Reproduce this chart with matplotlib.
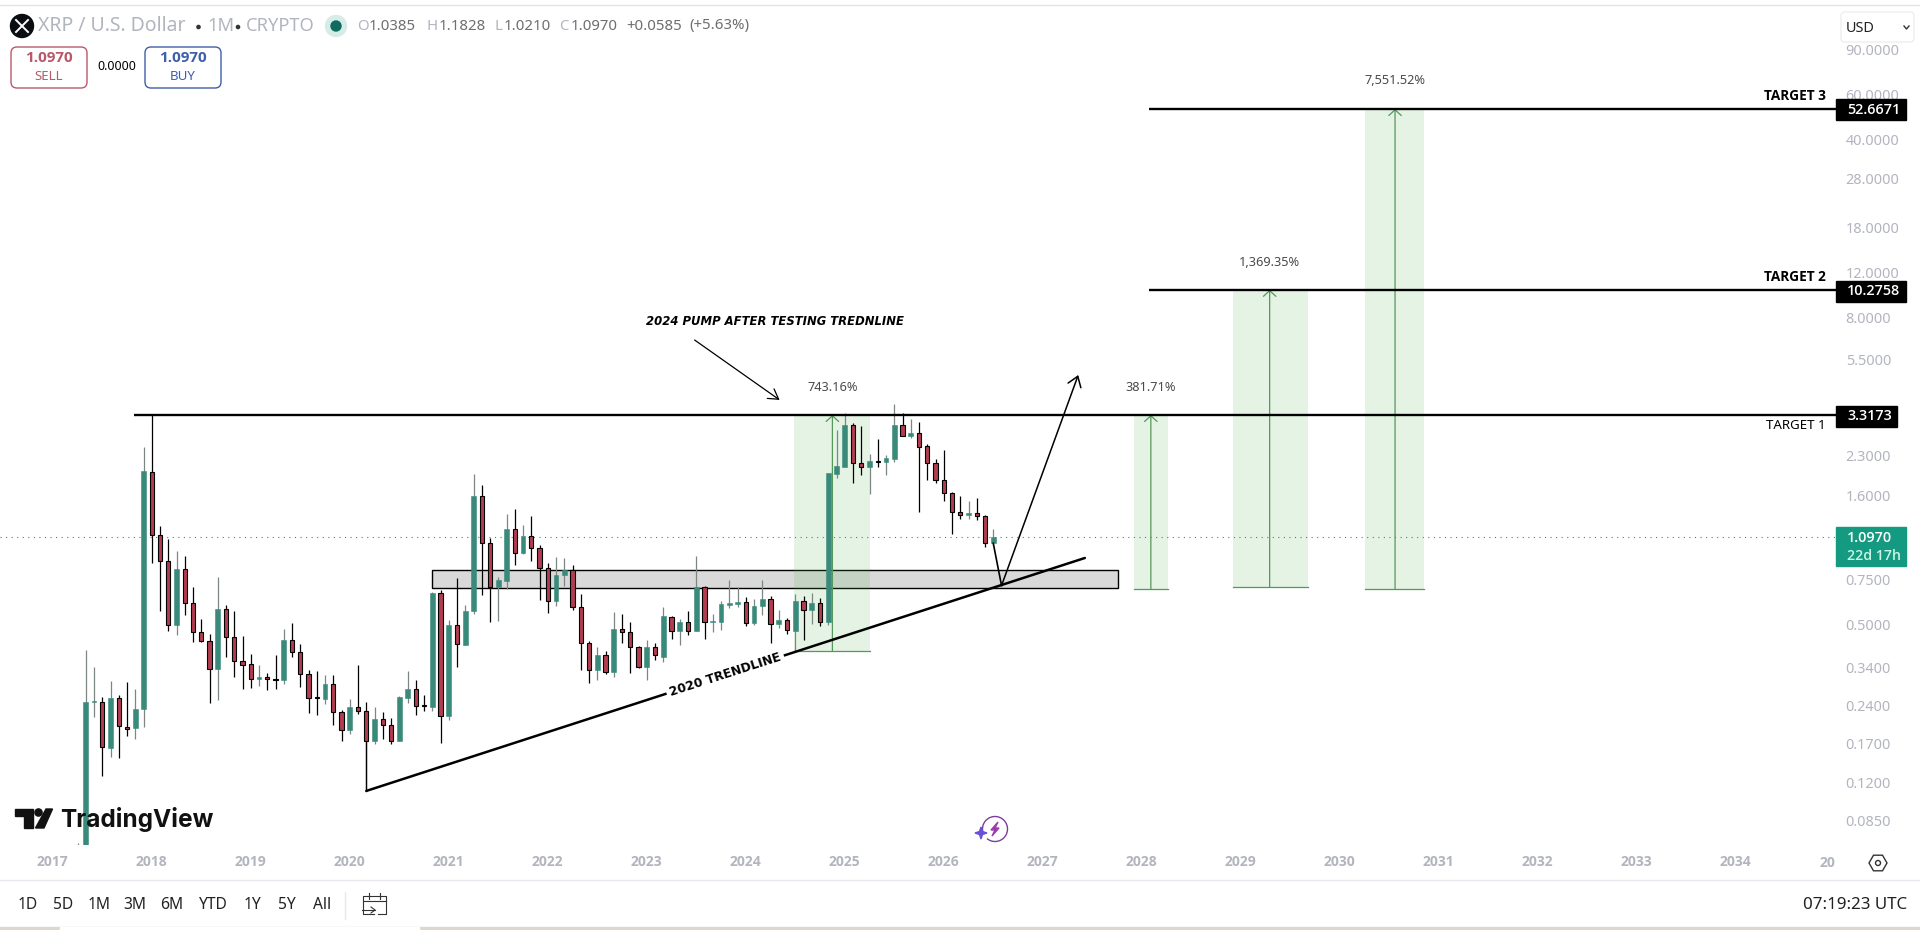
import numpy as np
import matplotlib
matplotlib.use('Agg')
import matplotlib.pyplot as plt
from matplotlib.patches import Rectangle, FancyBboxPatch, Circle, Polygon, RegularPolygon, Arc

plt.rcParams['font.family'] = ['Noto Sans', 'DejaVu Sans']
BOLD = ['Open Sans', 'DejaVu Sans']

# monthly candles, first one is Apr 2017 (month 3 counted from Jan 2017)
first_month = 3
opens = [.032, .055, .248, .248, .163, .258, .197, .196, .233,
         1.975, 1.123, .883, .499, .828, .609, .468, .432, .333, .577, .448, .358,
         .348, .306, .312, .306, .302, .436, .391, .318, .259, .255, .293, .226,
         .192, .238, .228, .174, .212, .202, .175, .258, .28, .241, .238, .662,
         .219, .498, .416, .565, 1.6, 1.04, .70, .74, 1.18, .95, 1.11, .996,
         .832, .616, .778, .817, .584, .424, .33, .379, .325, .48, .467, .408,
         .339, .408, .372, .535, .469, .511, .472, .70, .511, .511, .597, .603,
         .613, .505, .588, .627, .50, .52, .473, .618, .567, .609, .51, 1.95,
         2.08, 3.04, 2.145, 2.08, 2.19, 2.16, 2.235, 3.03, 2.74, 2.82, 2.50, 2.145,
         1.84, 1.64, 1.38, 1.34, 1.365, 1.335, 1.0385]
highs = [.0695, .398, .341, .26, .30, .263, .296, .28, 2.48,
         3.3173, 1.22, 1.077, .97, .926, .70, .524, .46, .766, .598, .563, .449,
         .382, .345, .323, .378, .479, .505, .42, .33, .328, .316, .316, .231,
         .254, .345, .247, .236, .226, .214, .261, .328, .303, .263, .672, .68,
         .52, .76, .598, 1.95, 1.76, 1.095, .77, 1.35, 1.42, 1.23, 1.33, 1.025,
         .87, .921, .913, .854, .657, .429, .408, .393, .56, .55, .51, .41,
         .434, .424, .585, .54, .527, .564, .926, .71, .55, .62, .75, .70,
         .64, .627, .75, .647, .57, .532, .66, .647, .664, .635, 1.97, 2.90,
         3.39, 3.09, 3.0, 2.34, 2.66, 2.32, 3.66, 3.37, 3.19, 3.1, 2.56, 2.22,
         2.41, 1.66, 1.6, 1.52, 1.56, 1.34, 1.1828]
lows = [.028, .05, .216, .127, .151, .149, .183, .178, .198,
        .872, .565, .471, .454, .545, .426, .426, .246, .253, .373, .311, .279,
        .281, .287, .276, .279, .292, .373, .284, .225, .221, .244, .202, .175,
        .185, .223, .111, .17, .177, .17, .174, .246, .221, .229, .229, .171,
        .211, .341, .414, .55, .651, .511, .516, .69, .855, .945, .89, .621,
        .552, .593, .705, .567, .332, .294, .302, .318, .312, .424, .321, .336,
        .302, .364, .355, .439, .416, .455, .469, .439, .465, .476, .58, .585,
        .491, .496, .543, .424, .482, .459, .393, .435, .503, .491, .497, 1.87,
        2.07, 1.80, 1.92, 1.63, 2.08, 1.92, 2.16, 2.74, 2.69, 1.386, 1.835, 1.786,
        1.52, 1.13, 1.30, 1.29, 1.28, 1.01, 1.021]
closes = [.055, .248, .25, .165, .258, .199, .195, .233, 2.0,
          1.117, .883, .499, .828, .609, .468, .43, .333, .577, .448, .358, .347,
          .306, .312, .306, .303, .436, .391, .318, .258, .257, .293, .226, .192,
          .238, .228, .174, .212, .202, .175, .259, .28, .24, .239, .662, .219,
          .498, .417, .566, 1.6, 1.04, .70, .745, 1.18, .95, 1.11, .996, .832,
          .616, .783, .817, .584, .422, .33, .379, .325, .48, .465, .408, .339,
          .408, .378, .537, .47, .511, .473, .70, .51, .515, .60, .606, .613,
          .505, .59, .627, .502, .52, .474, .618, .567, .609, .51, 1.96, 2.09,
          3.04, 2.145, 2.08, 2.18, 2.175, 2.24, 3.03, 2.75, 2.82, 2.49, 2.145, 1.835,
          1.64, 1.38, 1.34, 1.365, 1.33, 1.04, 1.097]

last_price = 1.0970
targets = [3.3173, 10.2758, 52.6671]
target_start = [9.84, 132.9, 132.9]

# projection boxes: left month, right month, mid month, base price, top price, label
box_left = [89.9, 131.1, 143.1, 159.1]
box_right = [99.1, 135.2, 152.1, 166.2]
box_mid = [94.5, 133.1, 147.5, 162.7]
box_base = [.3934, .6886, .6993, .6883]
box_top = [3.3173, 3.3173, 10.2758, 52.6671]
box_text = ['743.16%', '381.71%', '1,369.35%', '7,551.52%']
box_text_price = [4.27, 4.27, 13.1, 67.9]

zone = (46, 129.1, .693, .815)
trend_m = [38, 125.1]
trend_p = [.111, .911]
swing_m = [114, 115]
swing_p = [1.04, .71]
swing_tip = (124.3, 4.76)

years = list(range(2017, 2035))
price_ticks = [90, 60, 40, 28, 18, 12, 8, 5.5, 3.4, 2.3, 1.6, 1.1, .75, .5, .34, .24, .17, .12, .085]

UP = '#3a8a7b'
DOWN = '#b23c50'
GREY = '#b2b5be'
DARK_GREEN = '#55985a'

fig = plt.figure(figsize=(19.2, 9.3), dpi=100, facecolor='white')
ax = fig.add_axes([0, (930 - 845) / 930, 1836 / 1920, (845 - 8) / 930])
ax.set_yscale('log')
ax.set_xlim(-6.4, 216.15)
ax.set_ylim(.0681, 131.2)
for s in ax.spines.values():
    s.set_visible(False)

# candles
x = first_month + np.arange(len(opens))
o = np.array(opens)
c = np.array(closes)
up = c >= o
ax.vlines(x[up], np.array(lows)[up], np.array(highs)[up], color='#7c8784', lw=.9, zorder=3)
ax.vlines(x[~up], np.array(lows)[~up], np.array(highs)[~up], color='black', lw=.9, zorder=3)
ax.bar(x[up], (c - o)[up], bottom=o[up], width=.58, color=UP, edgecolor=UP, lw=.4, zorder=4)
ax.bar(x[~up], (o - c)[~up], bottom=c[~up], width=.52, color=DOWN, edgecolor='black', lw=.8, zorder=4)

# support zone and projection boxes
ax.add_patch(Rectangle((zone[0], zone[2]), zone[1] - zone[0], zone[3] - zone[2],
                       facecolor='#d9d9d9', edgecolor='black', lw=1, zorder=1))
ax.axhline(last_price, color='#139a80', lw=.8, ls=(0, (1, 4)), zorder=2)
for i in range(4):
    ax.add_patch(Rectangle((box_left[i], box_base[i]), box_right[i] - box_left[i],
                           box_top[i] - box_base[i], facecolor=(.3, .69, .31, .15), lw=0, zorder=2))
    ax.plot([box_left[i], box_right[i]], [box_base[i], box_base[i]], color=DARK_GREEN, lw=.9, zorder=2)
    ax.annotate('', xy=(box_mid[i], box_top[i]), xytext=(box_mid[i], box_base[i]),
                arrowprops=dict(arrowstyle='->,head_length=0.45,head_width=0.5', color=DARK_GREEN,
                                lw=.9, shrinkA=0, shrinkB=0, mutation_scale=9), zorder=2)
    ax.text(box_mid[i], box_text_price[i], box_text[i], ha='center', va='center',
            fontsize=9.2, color='#4a4a4a', zorder=6)

# target lines
for t, s in zip(targets, target_start):
    ax.plot([s, 216.15], [t, t], color='black', lw=1.7, zorder=5, solid_capstyle='butt')

# trendline and arrows
ax.plot(trend_m, trend_p, color='black', lw=1.8, zorder=5, solid_capstyle='round')
ax.plot([38, 38], [.111, .174], color='black', lw=.9, zorder=3)
ax.text(81.5, .318, '2020 TRENDLINE', rotation=17.9, rotation_mode='anchor', ha='center', va='center',
        family='DejaVu Sans', weight='bold', fontsize=8.8, zorder=6,
        bbox=dict(facecolor='white', edgecolor='none', pad=2.5))
ax.plot(swing_m, swing_p, color='black', lw=1.2, zorder=5)
ax.annotate('', xy=swing_tip, xytext=(swing_m[1], swing_p[1]),
            arrowprops=dict(arrowstyle='->,head_length=0.5,head_width=0.35', color='black', lw=1.1,
                            shrinkA=0, shrinkB=0, mutation_scale=14), zorder=5)
ax.text(87.6, 7.69, '2024 PUMP AFTER TESTING TREDNLINE', ha='center', va='center',
        family='DejaVu Sans', weight='bold', style='italic', fontsize=8.4, zorder=6)
ax.annotate('', xy=(88.1, 3.8), xytext=(77.8, 6.53),
            arrowprops=dict(arrowstyle='->,head_length=0.5,head_width=0.3', color='black', lw=.9,
                            shrinkA=0, shrinkB=0, mutation_scale=14), zorder=5)

# axes ticks
ax.minorticks_off()
ax.yaxis.tick_right()
ax.set_yticks(price_ticks)
ax.set_yticklabels(['%.4f' % p for p in price_ticks], fontsize=10.4, color=GREY)
ax.set_xticks([(y - 2017) * 12 for y in years])
ax.set_xticklabels([str(y) for y in years], fontsize=10, color=GREY, weight='bold', family=BOLD)
ax.tick_params(axis='both', length=0)
ax.tick_params(axis='y', pad=7)
ax.tick_params(axis='x', pad=7)

# overlay in screen pixels for the terminal chrome
ui = fig.add_axes([0, 0, 1, 1], facecolor='none')
ui.set_xlim(0, 1920)
ui.set_ylim(930, 0)
ui.axis('off')


def label(px, py, s, **kw):
    kw.setdefault('va', 'center')
    kw.setdefault('ha', 'left')
    kw.setdefault('fontsize', 10.4)
    kw.setdefault('color', 'black')
    ui.text(px, py, s, **kw)


label(1827, 863, '20', ha='center', fontsize=10, color=GREY, weight='bold', family=BOLD)
ui.plot([0, 1920], [5, 5], color='#e3e3e3', lw=1)

# legend row
ui.add_patch(Circle((22, 26), 11.5, color='#0b0e11'))
ui.plot([16, 28], [20, 32], color='white', lw=1.4)
ui.plot([28, 16], [20, 32], color='white', lw=1.4)
label(38, 26, 'XRP / U.S. Dollar', fontsize=14, color=GREY)
ui.add_patch(Circle((198.5, 27), 1.6, color='#333333'))
label(207, 26, '1M', fontsize=13.2, color=GREY)
ui.add_patch(Circle((238, 27), 1.6, color='#333333'))
label(246, 26, 'CRYPTO', fontsize=13.2, color=GREY)
ui.add_patch(Circle((336, 26), 10.5, color='#d6ece8'))
ui.add_patch(Circle((336, 26), 5, color='#0f6b5d'))
for lx, vx, l, v in zip([357, 426, 494, 559], [369, 439, 504, 571], 'OHLC',
                        ['1.0385', '1.1828', '1.0210', '1.0970']):
    label(lx, 26, l, color=GREY, fontsize=10.8)
    label(vx, 26, v, color='#6e6e6e', fontsize=10.8)
label(626, 26, '+0.0585', color='#6e6e6e', fontsize=10.8)
label(689, 26, '(+5.63%)', color='#6e6e6e', fontsize=10.8)

# sell / buy
for bx, col, word in [(11, '#b8586a', 'SELL'), (145, '#3f5fa8', 'BUY')]:
    ui.add_patch(FancyBboxPatch((bx, 47), 76, 41, boxstyle='round,pad=0,rounding_size=6',
                                facecolor='white', edgecolor=col, lw=1))
    label(bx + 38, 58.5, '1.0970', color=col, ha='center', fontsize=11, weight='bold', family=BOLD)
    label(bx + 38, 76, word, color=col, ha='center', fontsize=9.6)
label(116.5, 66, '0.0000', ha='center', fontsize=9)

# currency box
ui.add_patch(FancyBboxPatch((1841, 12), 73, 30, boxstyle='round,pad=0,rounding_size=4',
                            facecolor='white', edgecolor='#eeeeee', lw=1))
label(1846, 28, 'USD', fontsize=10.4, color='#222222')
ui.plot([1904, 1906.5, 1909], [26, 29, 26], color='#333333', lw=1)

# price tags
for w, s, py in [(70, '52.6671', 110), (70, '10.2758', 291), (61, '3.3173', 416)]:
    ui.add_patch(Rectangle((1836, py - 10.5), w, 21, color='black'))
    label(1847, py, s, color='white', fontsize=10.4, weight=600, family=BOLD)
label(1826, 96, 'TARGET 3', ha='right', weight='bold', fontsize=9.8, family=BOLD)
label(1826, 277, 'TARGET 2', ha='right', weight='bold', fontsize=9.8, family=BOLD)
label(1826, 425, 'TARGET 1', ha='right', fontsize=9.6)
ui.add_patch(Rectangle((1836, 527), 70, 39, color='#139a80'))
label(1847, 538, '1.0970', color='white', fontsize=10.4, weight=600, family=BOLD)
label(1847, 556, '22d 17h', color='#c8f5e6', fontsize=10.2, weight=600, family=BOLD)

# logo
ui.add_patch(Polygon([(15, 809), (33, 809), (33, 828), (24, 828), (24, 816), (15, 816)], color='#111111'))
ui.add_patch(Circle((38.5, 812.5), 3.6, color='#111111'))
ui.add_patch(Polygon([(46, 809), (52.5, 809), (44, 828), (35.5, 828)], color='#111111'))
label(60, 819, 'TradingView', family='Inter', weight='bold', fontsize=17.6, color='#111111')

# bolt badge
ui.add_patch(Arc((995, 829), 25, 25, theta1=-200, theta2=130, color='#7a3f9e', lw=1))
ui.add_patch(Polygon([(998, 822), (991, 830), (995, 830), (992, 836), (999, 828), (995, 828)], color='#a03ab0'))
ui.add_patch(Polygon([(981, 827), (982.5, 831.5), (987, 833), (982.5, 834.5), (981, 839), (979.5, 834.5), (975, 833), (979.5, 831.5)],
                     color='#6a4fd8'))

# settings icon
ui.add_patch(RegularPolygon((1878, 863), 6, radius=9, orientation=np.pi / 6, facecolor='none', edgecolor='#333333', lw=1))
ui.add_patch(Circle((1878, 863), 2.5, facecolor='none', edgecolor='#333333', lw=1))

# bottom toolbar
ui.plot([0, 1920], [880, 880], color='#e6e8ee', lw=1)
for cx, s in zip([28, 63, 99, 135, 172, 213, 252, 287, 322],
                 ['1D', '5D', '1M', '3M', '6M', 'YTD', '1Y', '5Y', 'All']):
    label(cx, 905, s, ha='center', fontsize=11.2, color='#222222')
ui.plot([345, 345], [892, 919], color='#e6e8ee', lw=1)
ui.plot([374, 363, 363, 386, 386, 378], [914, 914, 896, 896, 914, 914], color='#333333', lw=.8)
ui.plot([363, 386], [901, 901], color='#333333', lw=.8)
ui.plot([369, 369], [893, 899], color='#333333', lw=.8)
ui.plot([380, 380], [893, 899], color='#333333', lw=.8)
ui.plot([362, 375], [910, 910], color='#333333', lw=.8)
ui.plot([371, 375, 371], [907, 910, 913], color='#333333', lw=.8)
label(1907, 905, '07:19:23 UTC', ha='right', fontsize=12.2, color='#222222')
ui.add_patch(Rectangle((0, 927), 1920, 3, color='#dcd8d0'))
ui.add_patch(Rectangle((60, 927), 359, 3, color='white'))

fig.savefig('out.png', dpi=100)
